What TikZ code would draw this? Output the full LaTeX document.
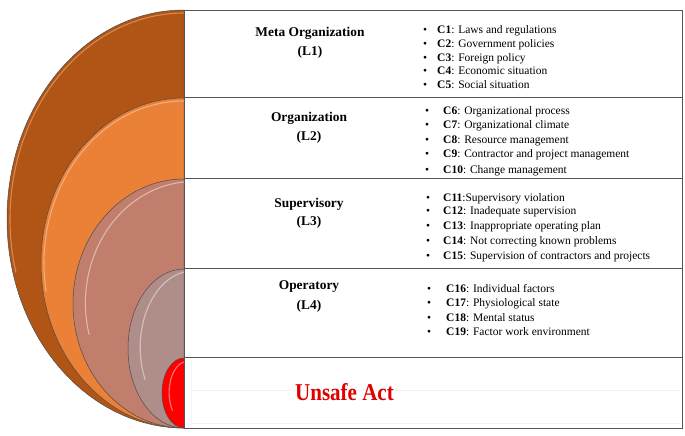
\documentclass[tikz,border=0pt]{standalone}
\usepackage{fontspec}
\setmainfont{Liberation Serif}
\definecolor{cOuter}{HTML}{B05516}
\definecolor{cOrange}{HTML}{EB8037}
\definecolor{cRosy}{HTML}{C17E6C}
\definecolor{cMauve}{HTML}{AF8E89}
\definecolor{cRed}{HTML}{FF0000}
\definecolor{cLine}{HTML}{555555}
\definecolor{cTitle}{HTML}{E00000}
\newcommand{\bul}[1]{\makebox[#1][l]{\textbullet}}
\begin{document}
\begin{tikzpicture}[x=1pt,y=-1pt,
  shell/.style={draw=gray!60!black, line width=0.5pt},
  shine/.style={draw=white, line width=1.1pt, opacity=0.45, line cap=round},
  tbl/.style={draw=cLine, line width=0.8pt},
  faint/.style={draw=gray!10, line width=0.6pt},
  ttl/.style={anchor=base, inner sep=0pt, font=\fontsize{13.4}{16}\selectfont\bfseries},
  itm/.style={anchor=base west, inner sep=0pt, font=\fontsize{11.5}{13}\selectfont}]
\useasboundingbox (0,0) rectangle (685,436);
% nested half-ellipses
\path[shell, fill=cOuter] (184,10) arc[start angle=90,end angle=270,x radius=177pt,y radius=209pt] -- cycle;
\draw[shine, draw=orange!40] (184,13) arc[start angle=90,end angle=195,x radius=174pt,y radius=206pt];
\path[shell, fill=cOrange] (184,98) arc[start angle=90,end angle=270,x radius=143pt,y radius=165pt] -- cycle;
\draw[shine, draw=orange!20] (184,101) arc[start angle=90,end angle=190,x radius=140pt,y radius=162pt];
\path[shell, fill=cRosy] (184,179) arc[start angle=90,end angle=270,x radius=111pt,y radius=124.5pt] -- cycle;
\draw[shine] (184,182) arc[start angle=95,end angle=195,x radius=108pt,y radius=121.5pt];
\path[shell, fill=cMauve] (184,269) arc[start angle=90,end angle=270,x radius=56pt,y radius=79.5pt] -- cycle;
\draw[shine] (184,272) arc[start angle=100,end angle=205,x radius=53pt,y radius=76.5pt];
\path[shell, fill=cRed] (184,358) arc[start angle=90,end angle=270,x radius=22pt,y radius=35pt] -- cycle;
\draw[shine] (184,362) arc[start angle=100,end angle=215,x radius=18pt,y radius=31pt];
% table
\fill[white] (184,10) rectangle (682,428);
\draw[faint] (191,390) -- (680,390);
\draw[faint] (191,423) -- (680,423);
\draw[faint] (191,360) -- (191,426);
\draw[tbl] (184,10) rectangle (682,428);
\draw[tbl] (184,97.5) -- (682,97.5);
\draw[tbl] (184,178.5) -- (682,178.5);
\draw[tbl] (184,268) -- (682,268);
\draw[tbl] (184,357) -- (682,357);
% row 1
\node[ttl] (t1) at (310,37) {Meta Organization};
\node[ttl] (l1) at (310,56) {(L1)};
\node[itm] (c1) at (423,34) {\bul{14pt}\textbf{C1}: Laws and regulations};
\node[itm] (c2) at (423,47.6) {\bul{14pt}\textbf{C2}: Government policies};
\node[itm] (c3) at (423,61.2) {\bul{14pt}\textbf{C3}: Foreign policy};
\node[itm] (c4) at (423,74.8) {\bul{14pt}\textbf{C4}: Economic situation};
\node[itm] (c5) at (423,88.4) {\bul{14pt}\textbf{C5}: Social situation};
% row 2
\node[ttl] (t2) at (309,121.7) {Organization};
\node[ttl] (l2) at (309,140) {(L2)};
\node[itm] (c6) at (425,114) {\bul{18pt}\textbf{C6}: Organizational process};
\node[itm] (c7) at (425,128.5) {\bul{18pt}\textbf{C7}: Organizational climate};
\node[itm] (c8) at (425,143.3) {\bul{18pt}\textbf{C8}: Resource management};
\node[itm] (c9) at (425,157.8) {\bul{18pt}\textbf{C9}: Contractor and project management};
\node[itm] (c10) at (425,173.3) {\bul{18pt}\textbf{C10}: Change management};
% row 3
\node[ttl] (t3) at (309,207.3) {Supervisory};
\node[ttl] (l3) at (309,225) {(L3)};
\node[itm] (c11) at (426,201) {\bul{17pt}\textbf{C11}:Supervisory violation};
\node[itm] (c12) at (426,214.5) {\bul{17pt}\textbf{C12}: Inadequate supervision};
\node[itm] (c13) at (426,229.3) {\bul{17pt}\textbf{C13}: Inappropriate operating plan};
\node[itm] (c14) at (426,244) {\bul{17pt}\textbf{C14}: Not correcting known problems};
\node[itm] (c15) at (426,259) {\bul{17pt}\textbf{C15}: Supervision of contractors and projects};
% row 4
\node[ttl] (t4) at (309,289.3) {Operatory};
\node[ttl] (l4) at (309,309.3) {(L4)};
\node[itm] (c16) at (427,292) {\bul{19pt}\textbf{C16}: Individual factors};
\node[itm] (c17) at (427,306.5) {\bul{19pt}\textbf{C17}: Physiological state};
\node[itm] (c18) at (427,321) {\bul{19pt}\textbf{C18}: Mental status};
\node[itm] (c19) at (427,335.7) {\bul{19pt}\textbf{C19}: Factor work environment};
% row 5
\node[anchor=base west, inner sep=0pt, text=cTitle, font=\fontsize{21}{26}\selectfont\bfseries] (ua) at (295,400) {\scalebox{1}[1.15]{Unsafe Act}};
\end{tikzpicture}
\end{document}
